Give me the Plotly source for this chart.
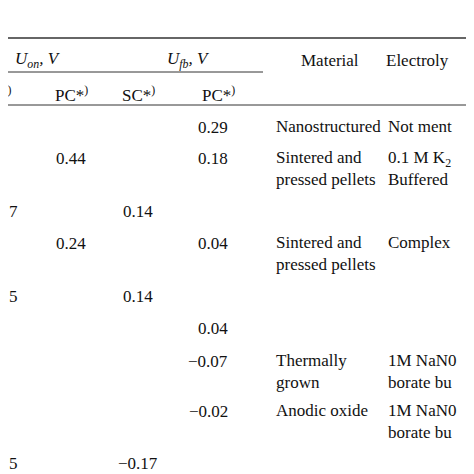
import plotly.graph_objects as go

# table content (cropped view)
row_y = [127, 158, 211, 243, 296, 328, 361, 411, 463]
sc_on = ["", "", "7", "", "5", "", "", "", "5"]
pc_on = ["", "0.44", "", "0.24", "", "", "", "", ""]
sc_fb = ["", "", "0.14", "", "0.14", "", "", "", "−0.17"]
pc_fb = ["0.29", "0.18", "", "0.04", "", "0.04", "−0.07", "−0.02", ""]
material = ["Nanostructured", "Sintered and<br>pressed pellets", "", "Sintered and<br>pressed pellets",
            "", "", "Thermally<br>grown", "Anodic oxide", ""]
electrolyte = ["Not ment", "0.1 M K<sub>2</sub><br>Buffered", "", "Complex", "", "",
               "1M NaN0<br>borate bu", "1M NaN0<br>borate bu", ""]

font = dict(family="Liberation Serif, serif", size=17, color="#111")
dy = -8
fig = go.Figure()
fig.add_trace(go.Scatter(x=[0, 474], y=[0, 474], mode="markers", marker=dict(opacity=0), hoverinfo="skip"))

ann = []
def txt(x, y, s, xa="center", ya="middle"):
    ann.append(dict(x=x, y=y + dy, text=s, showarrow=False, xanchor=xa, yanchor=ya, font=font, align="left"))

# headers
txt(5, 60, "<i>U<sub>on</sub>, V</i>", "left")
txt(157, 60, "<i>U<sub>fb</sub>, V</i>", "left")
txt(322, 60, "Material")
txt(376, 60, "Electroly", "left")
txt(6, 94, "*<sup>)</sup>", "right")
txt(63, 94, "PC*<sup>)</sup>")
txt(130, 94, "SC*<sup>)</sup>")
txt(210, 94, "PC*<sup>)</sup>")

for i, y in enumerate(row_y):
    txt(12, y, sc_on[i], "right")
    txt(63, y, pc_on[i])
    txt(130, y, sc_fb[i])
    txt(222, y, pc_fb[i], "right")
    if material[i]:
        txt(266, y - 12, material[i], "left", "top")
    if electrolyte[i]:
        txt(378, y - 12, electrolyte[i], "left", "top")

shapes = [
    dict(type="line", x0=0, x1=474, y0=38 + dy, y1=38 + dy, line=dict(color="#333", width=1.5)),
    dict(type="line", x0=0, x1=255, y0=72 + dy, y1=72 + dy, line=dict(color="#333", width=1)),
    dict(type="line", x0=0, x1=474, y0=105 + dy, y1=105 + dy, line=dict(color="#333", width=1)),
]

fig.update_layout(
    width=474, height=474, margin=dict(l=0, r=0, t=0, b=0),
    plot_bgcolor="white", paper_bgcolor="white", showlegend=False,
    xaxis=dict(range=[0, 474], visible=False, fixedrange=True),
    yaxis=dict(range=[474, 0], visible=False, fixedrange=True),
    annotations=ann, shapes=shapes,
)
fig.write_html("out.html")
